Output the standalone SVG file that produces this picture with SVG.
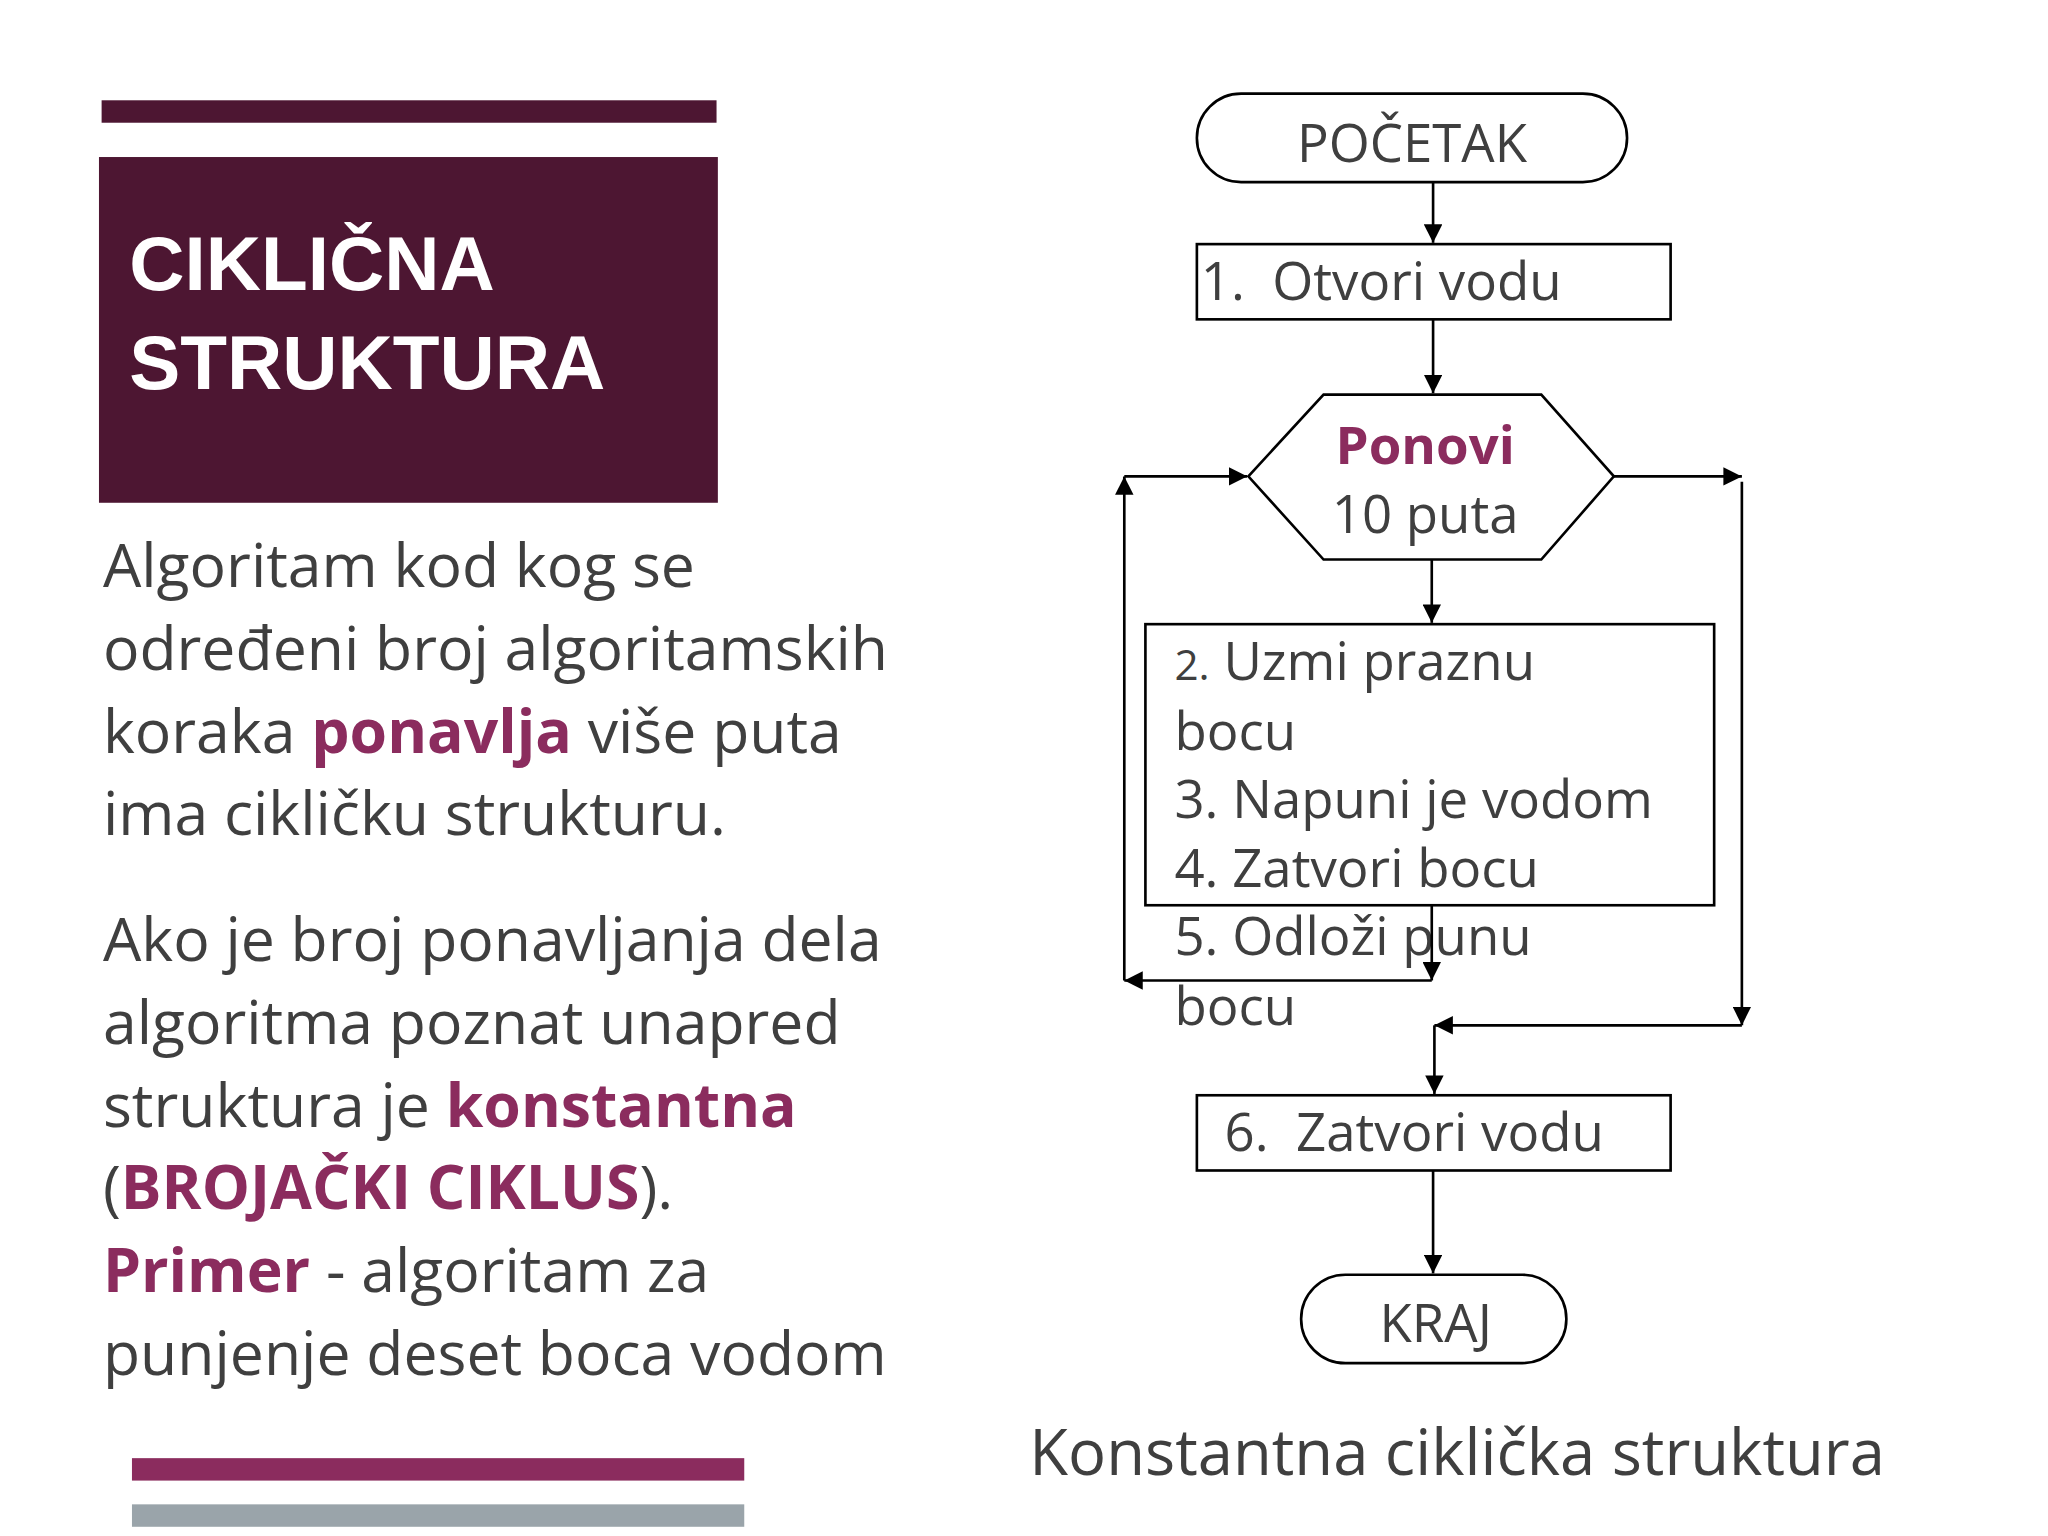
<svg xmlns="http://www.w3.org/2000/svg" width="2048" height="1536" viewBox="0 0 2048 1536">
<style>
.t{font-family:"Open Sans","Noto Sans",sans-serif;fill:#3f3f3f}
.p{fill:#8b2c5e;font-weight:bold}
.s{fill:none;stroke:#000;stroke-width:2}
.c{fill:none;stroke:#000;stroke-width:2;marker-end:url(#a)}
</style>
<defs><marker id="a" viewBox="0 0 10 10" refX="10" refY="5" markerWidth="7" markerHeight="7" markerUnits="userSpaceOnUse" orient="auto"><path d="M0,0L10,5L0,10z" fill="#000"/></marker>
<marker id="b" viewBox="0 0 10 10" refX="10" refY="5" markerWidth="14" markerHeight="14" markerUnits="userSpaceOnUse" orient="auto"><path d="M0,0L10,5L0,10z" fill="#000"/></marker></defs>
<rect width="2048" height="1536" fill="#fff"/>
<g transform="scale(1.3196)">
<g id="title">
<rect x="77" y="76" width="466" height="17" fill="#4d1632"/>
<rect x="75" y="119" width="469" height="262" fill="#4d1632"/>
<text x="98" y="220" font-family="Liberation Sans,Arial,sans-serif" font-weight="bold" font-size="58" fill="#fff">CIKLIČNA</text>
<text x="98" y="295" font-family="Liberation Sans,Arial,sans-serif" font-weight="bold" font-size="58" fill="#fff">STRUKTURA</text>
</g>
<g id="body" class="t" font-size="46">
<text x="78" y="445">Algoritam kod kog se</text>
<text x="78" y="508">određeni broj algoritamskih</text>
<text x="78" y="571">koraka <tspan class="p">ponavlja</tspan> više puta</text>
<text x="78" y="633">ima cikličku strukturu.</text>
<text x="78" y="728">Ako je broj ponavljanja dela</text>
<text x="78" y="791">algoritma poznat unapred</text>
<text x="78" y="854">struktura je <tspan class="p">konstantna</tspan></text>
<text x="78" y="916">(<tspan class="p">BROJAČKI CIKLUS</tspan>).</text>
<text x="78" y="979"><tspan class="p">Primer</tspan> - algoritam za</text>
<text x="78" y="1042">punjenje deset boca vodom</text>
</g>
<g id="bars">
<rect x="100" y="1105" width="464" height="17" fill="#8b2c5e"/>
<rect x="100" y="1140" width="464" height="17" fill="#9aa4aa"/>
</g>
<g id="start"><rect x="907" y="71" width="326" height="67" rx="33.5" class="s"/><text x="1070" y="123" text-anchor="middle" class="t" font-size="40">POČETAK</text></g>
<g id="step1"><rect x="907" y="185" width="359" height="57" class="s"/><text x="910" y="227" class="t" font-size="40" xml:space="preserve">1.  Otvori vodu</text></g>
<g id="loop"><polygon points="946,361 1003,299 1168,299 1223,361 1168,424 1003,424" class="s"/>
<text x="1080" y="352" text-anchor="middle" class="t p" font-size="40">Ponovi</text>
<text x="1080" y="404" text-anchor="middle" class="t" font-size="40">10 puta</text></g>
<g id="body-steps"><rect x="868" y="473" width="431" height="213" class="s"/>
<g class="t" font-size="40" xml:space="preserve">
<text x="890" y="515"><tspan font-size="32">2.</tspan>   Uzmi praznu</text>
<text x="890" y="568">bocu</text>
<text x="890" y="620">3.   Napuni je vodom</text>
<text x="890" y="672">4.   Zatvori bocu</text>
<text x="890" y="724">5.   Odloži punu</text>
<text x="890" y="777">bocu</text></g></g>
<g id="step6"><rect x="907" y="830" width="359" height="57" class="s"/><text x="928" y="872" class="t" font-size="40" xml:space="preserve">6.  Zatvori vodu</text></g>
<g id="end"><rect x="986" y="966" width="201" height="67" rx="33.5" class="s"/><text x="1088" y="1017" text-anchor="middle" class="t" font-size="40">KRAJ</text></g>
<g id="connectors">
<line x1="1086" y1="138" x2="1086" y2="184" style="fill:none;stroke:#000;stroke-width:2;marker-end:url(#b)"/>
<line x1="1086" y1="242" x2="1086" y2="298" style="fill:none;stroke:#000;stroke-width:2;marker-end:url(#b)"/>
<line x1="1085" y1="424" x2="1085" y2="472" style="fill:none;stroke:#000;stroke-width:2;marker-end:url(#b)"/>
<line x1="1085" y1="686" x2="1085" y2="743" style="fill:none;stroke:#000;stroke-width:2;marker-end:url(#b)"/>
<line x1="1085" y1="743" x2="852" y2="743" style="fill:none;stroke:#000;stroke-width:2;marker-end:url(#b)"/>
<line x1="852" y1="743" x2="852" y2="361" style="fill:none;stroke:#000;stroke-width:2;marker-end:url(#b)"/>
<line x1="852" y1="361" x2="945" y2="361" style="fill:none;stroke:#000;stroke-width:2;marker-end:url(#b)"/>
<line x1="1223" y1="361" x2="1320" y2="361" style="fill:none;stroke:#000;stroke-width:2;marker-end:url(#b)"/>
<line x1="1320" y1="365" x2="1320" y2="777" style="fill:none;stroke:#000;stroke-width:2;marker-end:url(#b)"/>
<line x1="1320" y1="777" x2="1087" y2="777" style="fill:none;stroke:#000;stroke-width:2;marker-end:url(#b)"/>
<line x1="1087" y1="777" x2="1087" y2="829" style="fill:none;stroke:#000;stroke-width:2;marker-end:url(#b)"/>
<line x1="1086" y1="887" x2="1086" y2="965" style="fill:none;stroke:#000;stroke-width:2;marker-end:url(#b)"/>
</g>
<text x="780" y="1118" class="t" font-size="48">Konstantna ciklička struktura</text>
</g>
</svg>
